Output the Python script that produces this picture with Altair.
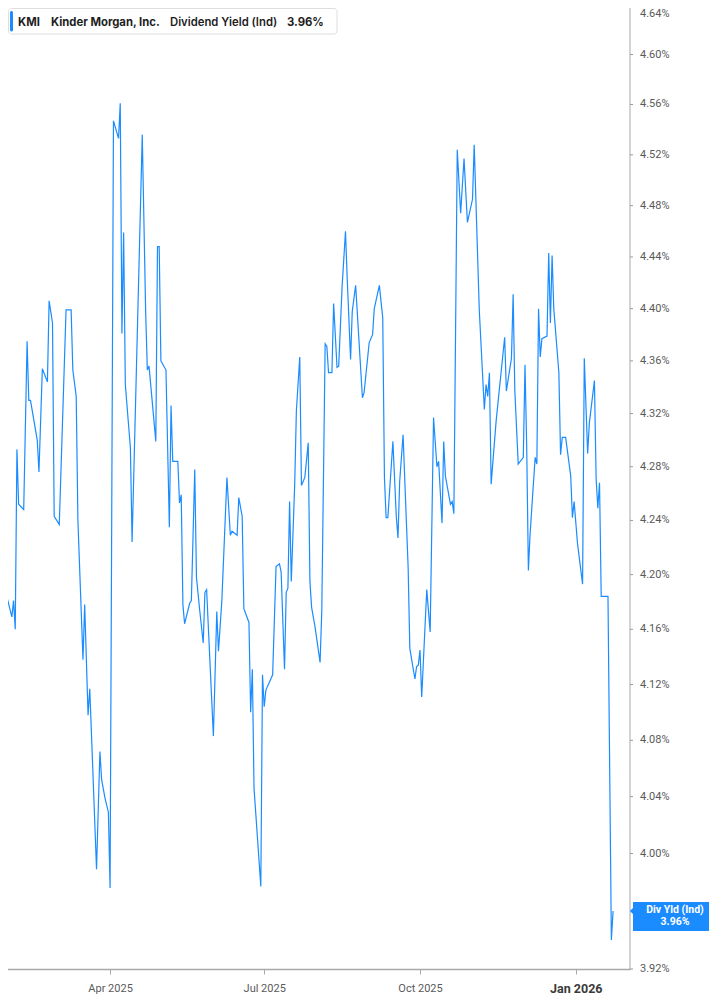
import altair as alt
import pandas as pd

# ---- data ----
dates = [
    "2025-01-26","2025-01-28","2025-01-29","2025-01-30","2025-02-02","2025-02-03","2025-02-04","2025-02-05","2025-02-06","2025-02-09",
    "2025-02-11","2025-02-12","2025-02-13","2025-02-17","2025-02-18","2025-02-20","2025-02-23","2025-02-24","2025-02-26","2025-02-27",
    "2025-03-02","2025-03-06","2025-03-09","2025-03-10","2025-03-12","2025-03-13","2025-03-16","2025-03-17","2025-03-19","2025-03-20",
    "2025-03-24","2025-03-26","2025-03-27","2025-03-29","2025-03-31","2025-04-01","2025-04-03","2025-04-06","2025-04-07","2025-04-08",
    "2025-04-09","2025-04-10","2025-04-13","2025-04-14","2025-04-20","2025-04-22","2025-04-23","2025-04-24","2025-04-28","2025-04-29",
    "2025-04-30","2025-05-01","2025-05-04","2025-05-06","2025-05-07","2025-05-08","2025-05-11","2025-05-12","2025-05-13","2025-05-14",
    "2025-05-15","2025-05-18","2025-05-19","2025-05-21","2025-05-22","2025-05-24","2025-05-26","2025-05-27","2025-05-28","2025-06-01",
    "2025-06-03","2025-06-04","2025-06-06","2025-06-09","2025-06-11","2025-06-12","2025-06-15","2025-06-16","2025-06-18","2025-06-19",
    "2025-06-22","2025-06-23","2025-06-24","2025-06-25","2025-06-29","2025-06-30","2025-07-01","2025-07-02","2025-07-06","2025-07-08",
    "2025-07-10","2025-07-11","2025-07-13","2025-07-14","2025-07-15","2025-07-16","2025-07-17","2025-07-19","2025-07-20","2025-07-22",
    "2025-07-23","2025-07-25","2025-07-27","2025-07-28","2025-07-29","2025-07-31","2025-08-03","2025-08-04","2025-08-06","2025-08-07",
    "2025-08-08","2025-08-10","2025-08-11","2025-08-13","2025-08-14","2025-08-16","2025-08-18","2025-08-19","2025-08-21","2025-08-22",
    "2025-08-24","2025-08-28","2025-08-29","2025-09-01","2025-09-03","2025-09-04","2025-09-07","2025-09-09","2025-09-10","2025-09-11",
    "2025-09-12","2025-09-15","2025-09-17","2025-09-18","2025-09-19","2025-09-21","2025-09-24","2025-09-25","2025-09-28","2025-09-29",
    "2025-09-30","2025-10-01","2025-10-02","2025-10-05","2025-10-07","2025-10-09","2025-10-11","2025-10-12","2025-10-14","2025-10-15",
    "2025-10-16","2025-10-19","2025-10-20","2025-10-21","2025-10-23","2025-10-25","2025-10-27","2025-10-29","2025-11-01","2025-11-02",
    "2025-11-05","2025-11-08","2025-11-09","2025-11-10","2025-11-11","2025-11-12","2025-11-15","2025-11-20","2025-11-21","2025-11-24",
    "2025-11-25","2025-11-26","2025-11-28","2025-12-01","2025-12-02","2025-12-03","2025-12-04","2025-12-05","2025-12-08","2025-12-09",
    "2025-12-10","2025-12-11","2025-12-12","2025-12-15","2025-12-16","2025-12-17","2025-12-18","2025-12-19","2025-12-22","2025-12-23",
    "2025-12-24","2025-12-26","2025-12-29","2025-12-30","2025-12-31","2026-01-02","2026-01-05","2026-01-06","2026-01-08","2026-01-09",
    "2026-01-12","2026-01-13","2026-01-14","2026-01-15","2026-01-16","2026-01-20","2026-01-22","2026-01-23",
]

yields = [
    4.187, 4.212, 4.092, 4.184, 4.169, 4.181, 4.160, 4.293, 4.252, 4.248,
    4.375, 4.330, 4.330, 4.300, 4.276, 4.354, 4.344, 4.406, 4.389, 4.243,
    4.237, 4.399, 4.399, 4.353, 4.333, 4.240, 4.138, 4.178, 4.098, 4.117,
    3.989, 4.072, 4.052, 4.039, 4.029, 3.976, 4.547, 4.533, 4.561, 4.381,
    4.459, 4.342, 4.294, 4.224, 4.536, 4.398, 4.353, 4.356, 4.299, 4.448,
    4.448, 4.360, 4.353, 4.235, 4.326, 4.284, 4.284, 4.253, 4.259, 4.178,
    4.164, 4.179, 4.181, 4.278, 4.198, 4.173, 4.150, 4.187, 4.189, 4.083,
    4.173, 4.144, 4.181, 4.272, 4.229, 4.232, 4.229, 4.257, 4.243, 4.175,
    4.165, 4.100, 4.131, 4.046, 3.977, 4.127, 4.104, 4.116, 4.127, 4.206,
    4.208, 4.202, 4.131, 4.187, 4.190, 4.254, 4.195, 4.266, 4.322, 4.363,
    4.266, 4.272, 4.298, 4.195, 4.176, 4.162, 4.136, 4.173, 4.373, 4.371,
    4.351, 4.351, 4.404, 4.355, 4.356, 4.417, 4.460, 4.424, 4.361, 4.398,
    4.418, 4.332, 4.336, 4.374, 4.380, 4.400, 4.418, 4.393, 4.272, 4.242,
    4.242, 4.299, 4.243, 4.227, 4.269, 4.304, 4.205, 4.146, 4.124, 4.133,
    4.134, 4.145, 4.111, 4.189, 4.158, 4.317, 4.280, 4.284, 4.238, 4.299,
    4.273, 4.252, 4.254, 4.245, 4.524, 4.474, 4.517, 4.467, 4.485, 4.528,
    4.399, 4.323, 4.342, 4.333, 4.351, 4.267, 4.315, 4.378, 4.337, 4.362,
    4.411, 4.337, 4.282, 4.287, 4.357, 4.295, 4.203, 4.230, 4.287, 4.282,
    4.400, 4.363, 4.377, 4.379, 4.443, 4.389, 4.441, 4.400, 4.351, 4.289,
    4.302, 4.302, 4.273, 4.242, 4.254, 4.223, 4.193, 4.362, 4.290, 4.313,
    4.345, 4.271, 4.249, 4.268, 4.184, 4.184, 3.940, 3.960,
]

# visible right-axis ticks (3.96% sits under the end-of-line label)
y_ticks = [3.92, 4.00, 4.04, 4.08, 4.12, 4.16, 4.20, 4.24, 4.28,
           4.32, 4.36, 4.40, 4.44, 4.48, 4.52, 4.56, 4.60]
y_tick_labels = ["3.92%", "4.00%", "4.04%", "4.08%", "4.12%", "4.16%", "4.20%", "4.24%", "4.28%",
                 "4.32%", "4.36%", "4.40%", "4.44%", "4.48%", "4.52%", "4.56%", "4.60%"]
top_tick = [4.64]
top_tick_label = ["4.64%"]
legend_parts = ["KMI", "Kinder Morgan, Inc.", "Dividend Yield (Ind)", "3.96%"]
end_label_lines = ["Div Yld (Ind)", "3.96%"]

# ---- styling ----
BLUE = "#1a8cff"
AXIS_GREY = "#a8a8a8"
LABEL_GREY = "#5a5a5a"
W, H = 630, 969

df = pd.DataFrame({"date": dates, "value": yields})

x_scale = alt.Scale(domain=[alt.DateTime(year=2025, month=1, date=26, utc=True),
                            alt.DateTime(year=2026, month=2, date=2, utc=True)])
y_scale = alt.Scale(type="log", domain=[3.92, 4.6441], nice=False, zero=False)

x_ticks = [alt.DateTime(year=2025, month=4, date=1, utc=True),
           alt.DateTime(year=2025, month=7, date=1, utc=True),
           alt.DateTime(year=2025, month=10, date=1, utc=True),
           alt.DateTime(year=2026, month=1, date=1, utc=True)]

jan_test = "utcmonth(datum.value) === 0"

x_axis = alt.Axis(
    title=None, values=x_ticks, grid=False,
    labelExpr="utcFormat(datum.value, '%b %Y')",
    labelFont="Roboto",
    labelFontSize={"condition": {"test": jan_test, "value": 12.5}, "value": 11},
    labelFontWeight={"condition": {"test": jan_test, "value": "bold"}, "value": "normal"},
    labelColor={"condition": {"test": jan_test, "value": "#3a3a3a"}, "value": LABEL_GREY},
    labelPadding=8, labelFlush=False, labelOverlap=False,
    tickSize=5, tickColor=AXIS_GREY, tickWidth=1,
    domainColor=AXIS_GREY, domainWidth=1.5,
)

line = alt.Chart(df).mark_line(color=BLUE, strokeWidth=1.2).encode(
    x=alt.X("date:T", scale=x_scale, axis=x_axis),
    y=alt.Y("value:Q", scale=y_scale, axis=None),
)

# right-hand value axis, drawn on the shared y scale
ticks_df = pd.DataFrame({"tick": y_ticks, "label": y_tick_labels})
top_df = pd.DataFrame({"tick": top_tick, "label": top_tick_label})
y_tick_enc = alt.Y("tick:Q", scale=y_scale, axis=None)
one = pd.DataFrame({"k": [0]})

y_domain_line = alt.Chart(one).mark_rule(color=AXIS_GREY, strokeWidth=1).encode(
    x=alt.value(W), y=alt.value(0), y2=alt.value(H)
)
y_tick_marks = alt.Chart(pd.concat([ticks_df, top_df])).mark_rule(color="#999999", strokeWidth=1).encode(
    x=alt.value(W), x2=alt.value(W + 3), y=y_tick_enc
)
y_tick_text = alt.Chart(ticks_df).mark_text(
    align="left", baseline="middle", font="Roboto", fontSize=11, color=LABEL_GREY
).encode(x=alt.value(W + 10), y=y_tick_enc, text="label:N")
y_top_text = alt.Chart(top_df).mark_text(
    align="left", baseline="top", font="Roboto", fontSize=11, color=LABEL_GREY, dy=3
).encode(x=alt.value(W + 10), y=y_tick_enc, text="label:N")

# legend box (top-left)
legend_box = alt.Chart(one).mark_rect(
    fill="white", stroke="#dedede", strokeWidth=1, cornerRadius=3
).encode(x=alt.value(8.5), x2=alt.value(337), y=alt.value(8.5), y2=alt.value(34))

legend_bar = alt.Chart(one).mark_rect(fill=BLUE, cornerRadius=1.5).encode(
    x=alt.value(10), x2=alt.value(13), y=alt.value(11), y2=alt.value(31.5)
)

legend_x = [18, 51, 170, 287]
legend_w = ["bold", "bold", 600, "bold"]
legend_texts = []
for part, xp, fw in zip(legend_parts, legend_x, legend_w):
    legend_texts.append(
        alt.Chart(pd.DataFrame({"t": [part]})).mark_text(
            align="left", baseline="alphabetic", font="Inter", fontSize=11.3,
            fontWeight=fw, color="#1e1e1e"
        ).encode(x=alt.value(xp), y=alt.value(25.5), text="t:N")
    )

# end-of-line value label
last = pd.DataFrame({"last": [yields[-1]], "l1": [end_label_lines[0]], "l2": [end_label_lines[1]]})
y_last = alt.Y("last:Q", scale=y_scale, axis=None)

box_path = "M-1,-0.345 L1,-0.345 L1,0.345 L-1,0.345 L-1,-0.06 L-1.075,-0.131 L-1,-0.202 Z"
end_box = alt.Chart(last).mark_point(
    shape=box_path, size=7056, filled=True, fill=BLUE, opacity=1, strokeWidth=0, yOffset=5.5
).encode(x=alt.value(675), y=y_last)

end_t1 = alt.Chart(last).mark_text(
    align="center", baseline="middle", font="Roboto", fontSize=10.5, fontWeight="bold", color="white", dy=-0.5
).encode(x=alt.value(675), y=y_last, text="l1:N")
end_t2 = alt.Chart(last).mark_text(
    align="center", baseline="middle", font="Roboto", fontSize=10.5, fontWeight="bold", color="white", dy=11.5
).encode(x=alt.value(675), y=y_last, text="l2:N")

chart = alt.layer(
    line, y_domain_line, y_tick_marks, y_tick_text, y_top_text,
    legend_box, legend_bar, *legend_texts, end_box, end_t1, end_t2
).properties(
    width=W, height=H,
    padding={"left": -8, "top": -8, "right": 79, "bottom": 28},
    autosize=alt.AutoSizeParams(type="none"),
    background="white",
).configure_view(stroke=None)

chart.save("out.html", embed_options={"renderer": "svg", "actions": False})
